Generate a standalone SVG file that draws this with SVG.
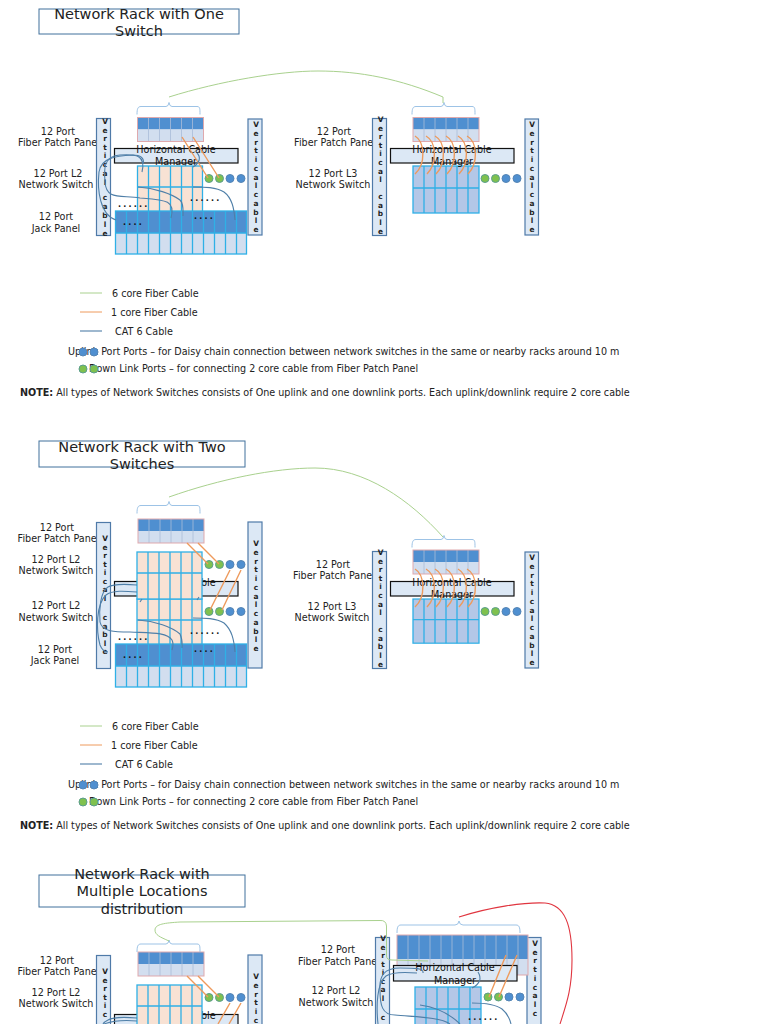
<svg xmlns="http://www.w3.org/2000/svg" width="768" height="1024" viewBox="0 0 768 1024">
<style>
text{font-family:"DejaVu Sans",sans-serif;fill:#222;font-size:9.6px}
.m{text-anchor:middle}
.t{font-size:14.5px;text-anchor:middle}
.h{font-size:9.6px;text-anchor:middle;fill:#111}
.v{font-size:7.4px;font-weight:bold;text-anchor:middle;fill:#222}
.d{font-size:8px;font-weight:bold;letter-spacing:2.2px;fill:#111}
.box{fill:#fff;stroke:#41719c;stroke-width:1}
.vc{fill:#dce8f5;stroke:#4f7aa8;stroke-width:1.2}
.mg{fill:#dce8f5;stroke:#111;stroke-width:1.2}
.g{fill:none;stroke:#a9d18e;stroke-width:1}
.o{fill:none;stroke:#ee9a5c;stroke-width:1.4}
.c{fill:none;stroke:#4f7fa8;stroke-width:1.1}
.r{fill:none;stroke:#e0353f;stroke-width:1.1}
.b{fill:none;stroke:#9dc3e6;stroke-width:1}
.pd{fill:#4f8fd0}.pl{fill:#d2deef}.pk{fill:none;stroke:#dfa9ad;stroke-width:1}
.wl{stroke:#a9bcd8;stroke-width:.8;fill:none}
.cy{fill:none;stroke:#2fb0e6;stroke-width:1.3}
.pe{fill:#f8e2d4}.bl{fill:#b4c7e7}
.ug{fill:#7fc14e;stroke:#5b9e8e}.ub{fill:#4f8fd0;stroke:#5585b5}
</style>
<defs>
<g id="p6"><rect class="pd" width="66" height="12"/><rect class="pl" y="12" width="66" height="12"/><path class="wl" d="M11 0V24M22 0V24M33 0V24M44 0V24M55 0V24"/><rect class="pk" width="66" height="24"/></g>
<g id="p12"><rect class="pd" width="131" height="24"/><rect class="pl" y="24" width="131" height="16"/><path class="wl" d="M11 0V40M22 0V40M33 0V40M44 0V40M55 0V40M66 0V40M77 0V40M88 0V40M99 0V40M110 0V40M121 0V40"/><rect class="pk" width="131" height="40"/></g>
<g id="sp"><rect class="pe" width="65" height="47"/><path class="cy" d="M11 0V47M22 0V47M33 0V47M44 0V47M55 0V47M0 21H65"/><rect class="cy" width="65" height="47"/></g>
<g id="sb"><rect class="bl" width="66" height="47"/><path class="cy" d="M11 0V47M22 0V47M33 0V47M44 0V47M55 0V47M0 22H66"/><rect class="cy" width="66" height="47"/></g>
<g id="jk"><rect class="pd" width="131" height="22"/><rect class="pl" y="22" width="131" height="21"/><path class="cy" d="M11 0V43M22 0V43M33 0V43M44 0V43M55 0V43M66 0V43M77 0V43M88 0V43M99 0V43M110 0V43M121 0V43M0 22H131"/><rect class="cy" width="131" height="43"/></g>
<g id="pt"><circle class="ug" cx="0" cy="0" r="4"/><circle class="ug" cx="10.500" cy="0" r="4"/><circle class="ub" cx="21" cy="0" r="4"/><circle class="ub" cx="32" cy="0" r="4"/></g>
<path id="br" class="b" d="M0 10C0 4 1 2 4 2H29Q31.500 2 32 -2Q32.500 2 35 2H60C63 2 63 4 63 10"/>
<path id="br2" class="b" d="M0 10C0 4 1 2 4 2H58Q61.500 2 62 -2Q62.500 2 66 2H119C122 2 123 4 123 10"/>
<g id="dots"><text class="d" x="118" y="0">......</text><text class="d" x="190" y="-6">......</text><text class="d" x="123" y="18">....</text><text class="d" x="194" y="12">....</text></g>
<g id="arcs"><path class="o" d="M415 0C425 6 426 28 415 38M426 0C437 6 437 28 427 38M435 0C446 6 446 28 436 38M446 0C457 6 457 28 447 38M458 0C469 6 469 28 459 38M467 0C478 6 478 28 468 38"/></g>
<g id="leg">
<path class="g" d="M80 293H102"/><path class="o" style="stroke-width:1" d="M80 312H102"/><path class="c" d="M80 331H102"/>
<text x="112" y="296.500">6 core Fiber Cable</text><text x="111" y="315.500">1 core Fiber Cable</text><text x="115" y="334.500">CAT 6 Cable</text>
<text x="68" y="355">Uplink Port Ports – for Daisy chain connection between network switches in the same or nearby racks around 10 m</text>
<text x="89" y="372">Down Link Ports – for connecting 2 core cable from Fiber Patch Panel</text>
<circle class="ub" cx="83" cy="352" r="4"/><circle class="ub" cx="94" cy="352" r="4"/><circle class="ug" cx="83" cy="369" r="4"/><circle class="ug" cx="94" cy="369" r="4"/>
<text x="20" y="396"><tspan font-weight="bold">NOTE:</tspan> All types of Network Switches consists of One uplink and one downlink ports. Each uplink/downlink require 2 core cable</text>
</g>
</defs>

<g id="title1"><rect class="box" x="39" y="9" width="200" height="25"/><text class="t" x="139" y="18.500">Network Rack with One</text><text class="t" x="139" y="35.500">Switch</text></g>
<g id="title2"><rect class="box" x="39" y="441" width="206" height="26"/><text class="t" x="142" y="451.500">Network Rack with Two</text><text class="t" x="142" y="468.500">Switches</text></g>
<g id="title3"><rect class="box" x="39" y="875" width="206" height="32"/><text class="t" x="142" y="878.500">Network Rack with</text><text class="t" x="142" y="895.500">Multiple Locations</text><text class="t" x="142" y="913.500">distribution</text></g>

<g id="rack1-left">
<text class="m" x="58" y="135">12 Port</text><text class="m" x="59" y="146">Fiber Patch Panel</text>
<text class="m" x="58" y="177">12 Port L2</text><text class="m" x="56" y="188">Network Switch</text>
<text class="m" x="56" y="220">12 Port</text><text class="m" x="56" y="232">Jack Panel</text>
<rect class="vc" x="96.500" y="118.500" width="14" height="117"/>
<text class="v" x="105 105 105 105 105 105 105 105 105 105 105 105 105 105" y="124 132.500 141 149.500 158 166.500 176 185 193 200 209 218 226.500 236">Vertical cable</text>
<rect class="vc" x="248" y="119" width="14" height="116"/>
<text class="v" x="256 256 256 256 256 256 256 256 256 256 256 256 256 256" y="127 135.800 144.500 153.200 162 170.700 179.500 188.200 188.200 197 205.700 214.500 223.200 232">Vertical cable</text>
<use href="#p6" x="137.500" y="117.500"/><use href="#br" x="137" y="104.500"/>
<rect class="mg" x="114.500" y="148.500" width="123.500" height="14.500"/>
<text class="h" x="176" y="153">Horizontal Cable</text><text class="h" x="176" y="165">Manager</text>
<use href="#sp" x="137.500" y="166"/><use href="#jk" x="115.500" y="211"/><use href="#pt" x="209" y="178.500"/>
<use href="#dots" y="207"/>
</g>
<g id="rack1-right">
<text class="m" x="334" y="135">12 Port</text><text class="m" x="335" y="146">Fiber Patch Panel</text>
<text class="m" x="333" y="177">12 Port L3</text><text class="m" x="333" y="188">Network Switch</text>
<rect class="vc" x="372.500" y="118.500" width="14" height="117"/>
<text class="v" x="380.500 380.500 380.500 380.500 380.500 380.500 380.500 380.500 380.500 380.500 380.500 380.500 380.500 380.500" y="122 130.500 139 147.500 156 164.500 173.500 182 190 199 207.500 216 224.500 234">Vertical cable</text>
<rect class="vc" x="525" y="119" width="13.500" height="116"/>
<text class="v" x="532 532 532 532 532 532 532 532 532 532 532 532 532 532" y="127 135.800 144.500 153.200 162 170.700 179.500 188.200 188.200 197 205.700 214.500 223.200 232">Vertical cable</text>
<use href="#p6" x="413" y="117.500"/><use href="#br" x="412" y="104.500"/>
<rect class="mg" x="390.500" y="148.500" width="123.500" height="14.500"/>
<use href="#sb" x="413" y="166"/>
<text class="h" x="452" y="153">Horizontal Cable</text><text class="h" x="452" y="165">Manager</text>
<use href="#pt" x="485" y="178.500"/>
</g>

<g id="rack2-left">
<text class="m" x="57" y="531">12 Port</text><text class="m" x="58.500" y="542">Fiber Patch Panel</text>
<text class="m" x="56" y="563">12 Port L2</text><text class="m" x="56" y="574">Network Switch</text>
<text class="m" x="56" y="609">12 Port L2</text><text class="m" x="56" y="621">Network Switch</text>
<text class="m" x="55" y="653">12 Port</text><text class="m" x="55" y="664">Jack Panel</text>
<rect class="vc" x="96.500" y="522.500" width="14" height="146"/>
<text class="v" x="105 105 105 105 105 105 105 105 105 105 105 105 105 105" y="541 549.500 558 566.500 575 583.500 592 600.500 610 620 628.500 637 645.500 654">Vertical cable</text>
<rect class="vc" x="248" y="522" width="14" height="146"/>
<text class="v" x="256 256 256 256 256 256 256 256 256 256 256 256 256 256" y="546 554.800 563.500 572.200 581 589.700 598.500 607.200 607.200 616 624.700 633.500 642.200 651">Vertical cable</text>
<use href="#p6" x="138" y="519"/><use href="#br" x="137" y="503.500"/>
<rect class="mg" x="114.500" y="581.500" width="123.500" height="14.500"/>
<text class="h" x="176" y="586">Horizontal Cable</text><text class="h" x="176" y="598">Manager</text>
<use href="#sp" x="137" y="599"/><use href="#sp" x="137" y="552"/><use href="#jk" x="115.500" y="644"/>
<use href="#pt" x="209" y="564.500"/><use href="#pt" x="209" y="611.500"/>
<use href="#dots" y="640"/>
</g>
<g id="rack2-right">
<text class="m" x="333" y="568">12 Port</text><text class="m" x="334" y="579">Fiber Patch Panel</text>
<text class="m" x="332" y="610">12 Port L3</text><text class="m" x="332" y="621">Network Switch</text>
<rect class="vc" x="372.500" y="551.500" width="14" height="117"/>
<text class="v" x="380.500 380.500 380.500 380.500 380.500 380.500 380.500 380.500 380.500 380.500 380.500 380.500 380.500 380.500" y="555 563.500 572 580.500 589 597.500 606.500 615 623 632 640.500 649 657.500 667">Vertical cable</text>
<rect class="vc" x="525" y="552" width="13.500" height="116"/>
<text class="v" x="532 532 532 532 532 532 532 532 532 532 532 532 532 532" y="560 568.800 577.500 586.200 595 603.700 612.500 621.200 621.200 630 638.700 647.500 656.200 665">Vertical cable</text>
<use href="#p6" x="413" y="550"/><use href="#br" x="412" y="537.500"/>
<rect class="mg" x="390.500" y="581.500" width="123.500" height="14.500"/>
<use href="#sb" transform="translate(413 599) scale(1 .94)"/>
<text class="h" x="452" y="586">Horizontal Cable</text><text class="h" x="452" y="598">Manager</text>
<use href="#pt" x="485" y="611.500"/>
</g>

<g id="rack3-left">
<text class="m" x="57" y="964">12 Port</text><text class="m" x="58.500" y="975">Fiber Patch Panel</text>
<text class="m" x="56" y="996">12 Port L2</text><text class="m" x="56" y="1007">Network Switch</text>
<rect class="vc" x="96.500" y="955.500" width="14" height="80"/>
<text class="v" x="105 105 105 105 105 105" y="974 982.500 991 999.500 1008 1016.500">Vertic</text>
<rect class="vc" x="248" y="955" width="14" height="80"/>
<text class="v" x="256 256 256 256 256 256" y="979 987.800 996.500 1005.200 1014 1022.700">Vertic</text>
<use href="#p6" x="138" y="952"/><use href="#br" x="137" y="942"/>
<rect class="mg" x="114.500" y="1014.500" width="123.500" height="14.500"/>
<text class="h" x="176" y="1019">Horizontal Cable</text>
<use href="#sp" x="137" y="985"/>
<use href="#pt" x="209" y="997.500"/>
</g>
<g id="rack3-right">
<text class="m" x="338" y="953">12 Port</text><text class="m" x="339" y="965">Fiber Patch Panel</text>
<text class="m" x="336" y="994">12 Port L2</text><text class="m" x="336" y="1006">Network Switch</text>
<rect class="vc" x="375.500" y="937.500" width="14" height="95"/>
<text class="v" x="383 383 383 383 383 383 383 383 383 383" y="941 949.500 958 966.500 975 983.500 992 1001 1010 1020">Vertical c</text>
<rect class="vc" x="527" y="937.500" width="14" height="95"/>
<text class="v" x="535 535 535 535 535 535 535 535 535 535" y="946 954.700 963.400 972.100 980.800 989.500 998.200 1006.900 1015.600 1015.600">Vertical c</text>
<use href="#p12" x="397" y="935"/><use href="#br2" x="397" y="923"/>
<rect class="mg" x="393.500" y="965.500" width="123.500" height="15.500"/>
<text class="h" x="455" y="971">Horizontal Cable</text><text class="h" x="455" y="984">Manager</text>
<use href="#sb" x="415" y="987"/>
<use href="#pt" x="488" y="997"/>
<text class="d" x="468" y="1020">......</text>
</g>

<g id="connectors">
<path class="g" d="M169 97C220 81 280 71 318 71C360 71 400 79 443 97V103"/>
<path class="g" d="M169 497C220 479 275 468 315 468C365 468 410 500 443 537"/>
<path class="g" d="M169 941C160 937 155 935 155 930C155 924 165 923 180 922L380 920.500Q386 920 386.500 926V956Q386.500 960 392 960L428 961"/>
<path class="r" d="M459 917C490 907 525 902 545 903C565 905 572 925 572 960C572 990 566 1005 560 1024"/>

<path class="o" d="M182 137L208 178M193 137L219 178"/>
<path class="c" d="M142 172C146 155 136 154 120 155C103 156 104 170 105 182C106 200 120 195 140 198C165 200 176 200 171 218"/>
<path class="c" d="M116 220C100 215 97 190 99 172C101 158 115 156 133 155C140 155 145 158 143 164"/>
<path class="c" d="M138 187C155 188 172 194 180 200C184 204 183 210 183 216"/>
<path class="c" d="M193 187C205 187 216 187 224 192C232 198 234 208 235 220"/>
<path class="c" d="M197 153C201 157 200 163 193 167"/>
<use href="#arcs" y="136"/>

<path class="o" d="M187 543L208 564M198 543L219 564M230 570L210 610M241 570L222 610"/>
<path class="c" d="M137 585C125 584 113 584 108 587C100 592 99 610 100 622C102 632 115 632 130 632C150 633 167 632 172 640C174 644 173 647 172 650"/>
<path class="c" d="M137 592C125 591 112 590 106 595C96 604 96 630 100 645C102 650 104 652 108 652"/>
<path class="c" d="M138 620C155 621 172 627 180 634C183 640 182 644 182 648"/>
<path class="c" d="M193 618C205 618 216 618 224 623C232 630 234 640 235 652"/>
<path class="c" d="M140 602L142 599M197 600L199 597"/>
<use href="#arcs" y="569"/>

<path class="o" d="M187 976L208 997M198 976L219 997M230 1003L218 1024M241 1003L229 1024"/>
<path class="c" d="M137 1018C125 1017 113 1017 108 1020Q104 1022 103 1024"/>
<path class="c" d="M137 1021C125 1020 112 1021 104 1024"/>

<path class="o" d="M506 955L489 997M517 955L499 997"/>
<path class="c" d="M423 973C424 968 415 968 400 968C384 968 379 976 380 990C380 1005 382 1015 395 1015C415 1017 440 1017 450 1024"/>
<path class="c" d="M417 973C405 972 392 972 386 976C377 983 376 1005 378 1024"/>
<path class="c" d="M420 1005C435 1007 450 1014 460 1024"/>
<path class="c" d="M472 1003C484 1003 495 1004 502 1009C507 1013 510 1020 511 1024"/>
<path class="c" d="M478 972C482 978 480 984 472 988"/>
</g>

<g id="legend1"><use href="#leg"/></g>
<g id="legend2"><use href="#leg" y="433"/></g>
</svg>
